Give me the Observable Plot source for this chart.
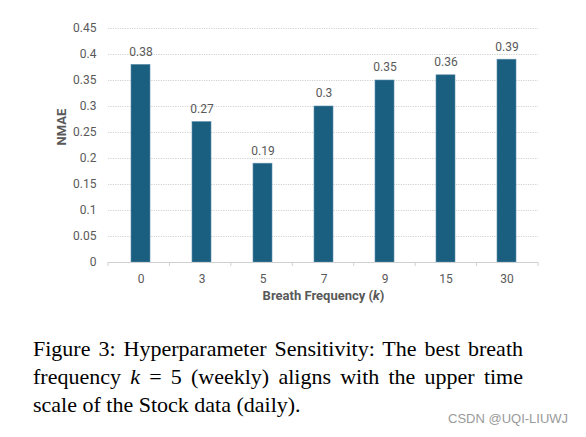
<!DOCTYPE html>
<html>
<head>
<meta charset="utf-8">
<script src="https://cdn.jsdelivr.net/npm/d3@7"></script>
<script src="https://cdn.jsdelivr.net/npm/@observablehq/plot@0.6"></script>
<style>
  body { margin: 0; background: #fff; width: 586px; height: 437px; position: relative; overflow: hidden; }
  #chart { position: absolute; left: 0; top: 0; }
  #caption {
    position: absolute; left: 33px; top: 335px; width: 490px;
    font-family: "Liberation Serif", "Times New Roman", serif;
    font-size: 22px; line-height: 28px; color: #000;
  }
  #caption div { white-space: nowrap; }
  #caption .j { text-align: justify; text-align-last: justify; }
  #mark {
    position: absolute; left: 448px; top: 411px;
    font-family: "Liberation Sans", Arial, sans-serif; font-size: 13px; color: #9a9a9a;
  }
</style>
</head>
<body>
<div id="chart"></div>
<div id="caption">
  <div class="j">Figure 3: Hyperparameter Sensitivity: The best breath</div>
  <div class="j">frequency <i>k</i> = 5 (weekly) aligns with the upper time</div>
  <div>scale of the Stock data (daily).</div>
</div>
<div id="mark">CSDN @UQI-LIUWJ</div>
<script>
// data
const freqs = ["0", "3", "5", "7", "9", "15", "30"];
const nmae = [0.38, 0.27, 0.19, 0.30, 0.35, 0.36, 0.39];
const yTicks = [0, 0.05, 0.1, 0.15, 0.2, 0.25, 0.3, 0.35, 0.4, 0.45];

const rows = freqs.map((f, i) => ({ k: f, v: nmae[i] }));
const gray = "#595959";

// little ticks on the band boundaries, like Excel's category axis
const boundaryTicks = (index, scales, values, dims) => {
  const g = d3.create("svg:g");
  const n = freqs.length;
  const w = (dims.width - dims.marginLeft - dims.marginRight) / n;
  const y0 = dims.height - dims.marginBottom;
  for (let i = 0; i <= n; i++) {
    const x = dims.marginLeft + i * w;
    g.append("line").attr("x1", x).attr("x2", x).attr("y1", y0).attr("y2", y0 + 4)
      .attr("stroke", "#d0d0d0");
  }
  return g.node();
};

const chart = Plot.plot({
  width: 586,
  height: 315,
  marginTop: 28,
  marginBottom: 53,
  marginLeft: 108,
  marginRight: 48,
  style: { fontFamily: "Roboto, sans-serif", fontSize: "12px", color: gray },
  x: { domain: freqs, paddingInner: 0.69, paddingOuter: 0.345 },
  y: { domain: [0, 0.45] },
  marks: [
    Plot.ruleY(yTicks.filter(t => t > 0), { stroke: "#d0d0d0", strokeDasharray: "1.2,1.2" }),
    Plot.barY(rows, { x: "k", y: "v", fill: "#1a5e80", stroke: "#5a8eaa", strokeWidth: 0.6 }),
    Plot.ruleY([0], { stroke: "#d0d0d0" }),
    boundaryTicks,
    Plot.axisX({ tickSize: 0, tickPadding: 12, label: null, fill: gray }),
    Plot.axisY({ ticks: yTicks, tickSize: 0, tickPadding: 12, tickFormat: d3.format("~g"), label: null, fill: gray }),
    Plot.text(rows, { x: "k", y: "v", text: d => d3.format("~g")(d.v), dy: -13, fill: gray }),
    Plot.text(["NMAE"], { frameAnchor: "left", dx: -47, rotate: -90, fontWeight: "bold", fill: gray, fontSize: 13 }),
    Plot.text(["Breath Frequency (k)"], { frameAnchor: "bottom", dy: 37, fontWeight: "bold", fill: gray, fontSize: 13 })
  ]
});

// italic k in the x label
chart.querySelectorAll("text").forEach(t => {
  if (t.textContent === "Breath Frequency (k)") {
    t.innerHTML = 'Breath Frequency (<tspan font-style="italic">k</tspan>)';
  }
});

document.getElementById("chart").append(chart);
</script>
</body>
</html>
